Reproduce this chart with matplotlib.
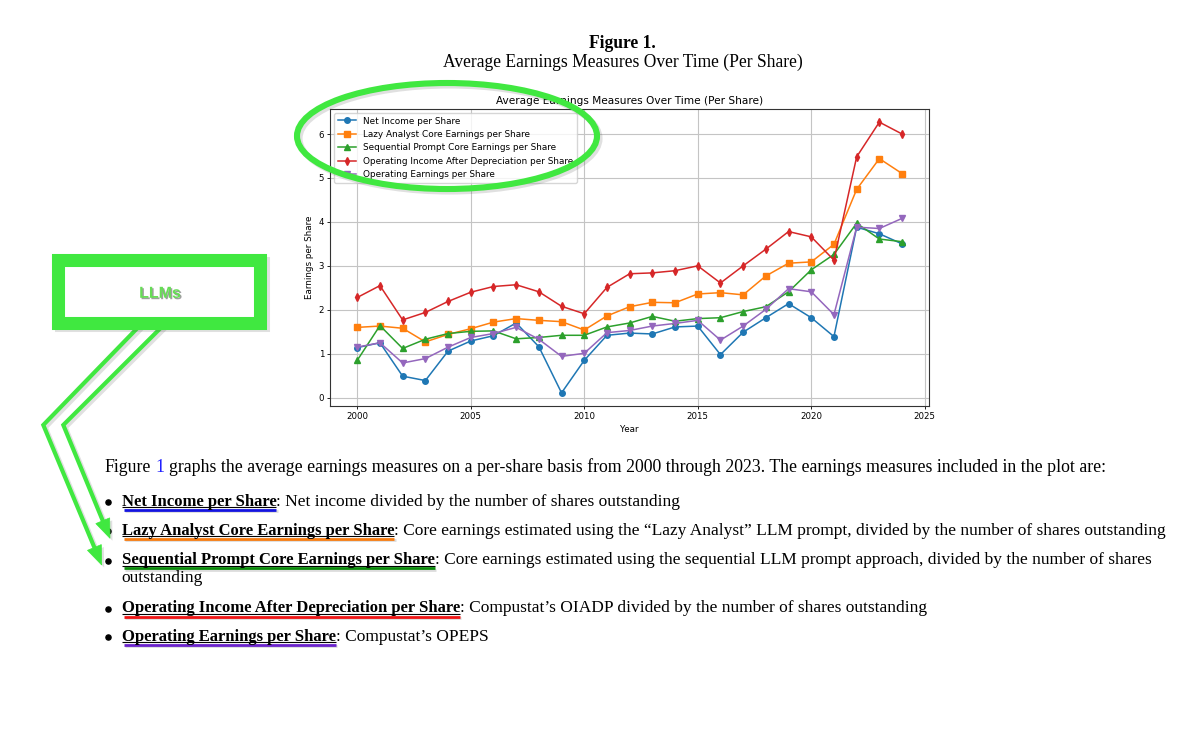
import matplotlib
matplotlib.use("Agg")
import matplotlib.pyplot as plt
import matplotlib.patheffects as pe
from matplotlib.patches import Ellipse, Rectangle, Polygon
import numpy as np

# ---------------- data ----------------
years = list(range(2000, 2025))
net_income_ps = [1.14, 1.25, 0.49, 0.39, 1.06, 1.29, 1.41, 1.70, 1.16, 0.11, 0.85, 1.42, 1.47,
                 1.45, 1.61, 1.63, 0.98, 1.49, 1.82, 2.14, 1.82, 1.39, 3.88, 3.73, 3.50]
lazy_core_ps = [1.60, 1.63, 1.58, 1.27, 1.44, 1.57, 1.72, 1.80, 1.76, 1.73, 1.54, 1.86, 2.07,
                2.17, 2.16, 2.36, 2.39, 2.34, 2.77, 3.06, 3.09, 3.49, 4.74, 5.44, 5.10]
seq_core_ps = [0.85, 1.64, 1.12, 1.33, 1.46, 1.51, 1.52, 1.34, 1.37, 1.42, 1.42, 1.61, 1.70,
               1.85, 1.74, 1.80, 1.82, 1.96, 2.07, 2.41, 2.91, 3.26, 3.97, 3.61, 3.55]
oiadp_ps = [2.28, 2.55, 1.77, 1.94, 2.19, 2.40, 2.53, 2.57, 2.41, 2.08, 1.91, 2.51, 2.82,
            2.84, 2.89, 3.00, 2.61, 3.00, 3.38, 3.78, 3.66, 3.13, 5.48, 6.27, 6.00]
opeps_ps = [1.15, 1.25, 0.79, 0.89, 1.15, 1.37, 1.46, 1.60, 1.33, 0.94, 1.01, 1.48, 1.53,
            1.63, 1.69, 1.76, 1.31, 1.63, 2.01, 2.48, 2.41, 1.89, 3.88, 3.85, 4.08]

series_labels = ["Net Income per Share",
                 "Lazy Analyst Core Earnings per Share",
                 "Sequential Prompt Core Earnings per Share",
                 "Operating Income After Depreciation per Share",
                 "Operating Earnings per Share"]
series_values = [net_income_ps, lazy_core_ps, seq_core_ps, oiadp_ps, opeps_ps]
series_markers = ["o", "s", "^", "d", "v"]

chart_title = "Average Earnings Measures Over Time (Per Share)"
fig_label = "Figure 1."
fig_subtitle = "Average Earnings Measures Over Time (Per Share)"

bullet_terms = series_labels
bullet_descs = [": Net income divided by the number of shares outstanding",
                ": Core earnings estimated using the \u201cLazy Analyst\u201d LLM prompt, divided by the number of shares outstanding",
                ": Core earnings estimated using the sequential LLM prompt approach, divided by the number of shares",
                ": Compustat\u2019s OIADP divided by the number of shares outstanding",
                ": Compustat\u2019s OPEPS"]
bullet_continuation = "outstanding"
underline_colors = ["#1414e0", "#f77c10", "#0a8a0a", "#f01414", "#6a22cc"]

# ---------------- figure ----------------
W, H = 1200, 741
fig = plt.figure(figsize=(W / 100, H / 100), dpi=100)
fig.patch.set_facecolor("white")

ax = fig.add_axes([330 / W, 1 - 406.4 / H, 599.3 / W, 297.8 / H])
for vals, lab, mk in zip(series_values, series_labels, series_markers):
    ax.plot(years, vals, marker=mk, label=lab, lw=1.1, ms=4.0)
ax.set_title(chart_title, fontsize=7.6, pad=3.5)
ax.set_xlabel("Year", fontsize=6.3, labelpad=2.5)
ax.set_ylabel("Earnings per Share", fontsize=6.3, labelpad=3)
ax.tick_params(labelsize=6.2, length=2.2, width=0.6, pad=2)
ax.grid(True, lw=0.8, color="#c4c4c4")
for s in ax.spines.values():
    s.set_linewidth(0.8)
    s.set_color("#333333")
ax.legend(loc="upper left", fontsize=6.4)

# ---------------- overlay in pixel coordinates ----------------
ov = fig.add_axes([0, 0, 1, 1], zorder=10)
ov.set_xlim(0, W)
ov.set_ylim(H, 0)
ov.axis("off")
ov.patch.set_alpha(0)

renderer = fig.canvas.get_renderer()
SERIF = "Liberation Serif"


def text_w(s, size, weight="normal"):
    t1 = ov.text(0, 0, "|" + s + "|", fontsize=size, family=SERIF, fontweight=weight)
    t2 = ov.text(0, 0, "||", fontsize=size, family=SERIF, fontweight=weight)
    w = t1.get_window_extent(renderer).width - t2.get_window_extent(renderer).width
    t1.remove()
    t2.remove()
    return w


para_parts = ["Figure ", "1", " graphs the average earnings measures on a per-share basis from 2000 through 2023. The earnings measures included in the plot are:"]
body_full = "".join(para_parts)
fs = 10 * 996.0 / text_w(body_full, 10)
# bold terms fitted to their total width in the reference
fs_b = 10 * 1303.0 / sum(text_w(t, 10, "bold") for t in bullet_terms)
# long bullet line must end near x=1168
w_long = text_w(bullet_terms[1], fs_b, "bold") + text_w(bullet_descs[1], fs)
if w_long > 1046:
    scale = (1046 - text_w(bullet_terms[1], fs_b, "bold")) / text_w(bullet_descs[1], fs)
    fs_d = fs * scale
else:
    fs_d = fs
fs_t = 10 * 360.0 / text_w(fig_subtitle, 10)

# figure heading
ov.text(622, 47.5, fig_label, fontsize=fs_t, family=SERIF, fontweight="bold",
        ha="center", va="baseline")
ov.text(623, 66.5, fig_subtitle, fontsize=fs_t, family=SERIF, ha="center", va="baseline")

# paragraph
x0, yb = 104.3, 471.8
ov.text(x0, yb, "Figure", fontsize=fs, family=SERIF, va="baseline")
x1 = x0 + text_w("Figure ", fs)
ov.text(x1, yb, "1", fontsize=fs, family=SERIF, va="baseline", color="#2020ff")
x2 = x1 + text_w("1 ", fs)
ov.text(x2, yb, para_parts[2].lstrip(), fontsize=fs, family=SERIF, va="baseline")

# bullets
baselines = [505.5, 534.8, 564.0, 612.3, 640.7]
xt = 121.7
shadow_line = [pe.SimpleLineShadow(offset=(1.0, -1.0), shadow_color="#777777", alpha=0.25), pe.Normal()]
for term, desc, col, yb in zip(bullet_terms, bullet_descs, underline_colors, baselines):
    ov.plot([107.7], [yb - 3.4], "o", ms=3.7, color="black")
    ov.text(xt, yb, term, fontsize=fs_b, family=SERIF, fontweight="bold", va="baseline")
    wb = text_w(term, fs_b, "bold")
    ov.text(xt + wb, yb, desc, fontsize=fs_d, family=SERIF, va="baseline")
    ov.plot([xt, xt + wb], [yb + 1.6, yb + 1.6], color="black", lw=0.8, solid_capstyle="butt")
    ov.plot([xt + 2, xt + wb], [yb + 4.3, yb + 4.3], color=col, lw=2.0,
            solid_capstyle="butt", path_effects=shadow_line)
ov.text(xt, 582.3, bullet_continuation, fontsize=fs_d, family=SERIF, va="baseline")

# ---------------- green annotations ----------------
GREEN = "#40e840"
shadow_fx = [pe.SimpleLineShadow(offset=(1.8, -1.8), shadow_color="#555555", alpha=0.18),
             pe.Normal()]

# ellipse around the legend
ell = Ellipse((447, 136), 300, 106, angle=0, fill=False, edgecolor=GREEN, lw=4.4,
              path_effects=shadow_fx, zorder=5)
ov.add_patch(ell)


def arrow(points, tip, head_len=19, head_w=7.5):
    pts = np.array(points + [tip], dtype=float)
    d = pts[-1] - pts[-2]
    d = d / np.hypot(*d)
    base = pts[-1] - d * head_len
    perp = np.array([-d[1], d[0]])
    line = np.vstack([pts[:-1], base])
    ov.plot(line[:, 0], line[:, 1], color=GREEN, lw=3.0, solid_joinstyle="miter",
            path_effects=shadow_fx, zorder=4)
    tri = Polygon([pts[-1], base + perp * head_w, base - perp * head_w], closed=True,
                  facecolor=GREEN, edgecolor=GREEN, lw=0.5, zorder=4,
                  path_effects=[pe.SimplePatchShadow(offset=(1.8, -1.8), shadow_rgbFace="#555555", alpha=0.18),
                                pe.Normal()])
    ov.add_patch(tri)


arrow([(143.3, 322), (43.3, 425)], (101.7, 565))
arrow([(166.7, 322), (63.3, 425)], (110.0, 538.3))

# LLMs box
box = Rectangle((58.3, 260.3), 201.7, 62.3, facecolor="white", edgecolor=GREEN, lw=9.4,
                joinstyle="miter", path_effects=shadow_fx, zorder=6)
ov.add_patch(box)
ov.text(160, 293.3, "LLMs", fontsize=11.5, family="Liberation Sans", fontweight="bold",
        color="#66dd55", ha="center", va="center", zorder=7,
        path_effects=[pe.SimplePatchShadow(offset=(1.0, -1.0), shadow_rgbFace="#777777", alpha=0.7),
                      pe.Normal()])

fig.savefig("out.png", dpi=100, facecolor="white")
